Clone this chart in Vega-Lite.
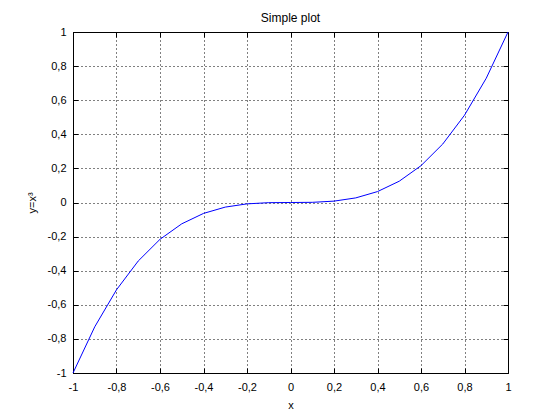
{
  "$schema": "https://vega.github.io/schema/vega-lite/v6.json",
  "width": 435,
  "height": 341,
  "autosize": {"type": "none"},
  "padding": {"left": 73, "top": 32, "right": 52, "bottom": 47},
  "background": "white",
  "title": {"text": "Simple plot", "font": "Liberation Sans", "fontSize": 12, "fontWeight": "normal", "color": "black", "offset": 1},
  "config": {
    "view": {"stroke": null},
    "axis": {"labelFont": "Liberation Sans", "labelFontSize": 11, "labelColor": "black", "labelFlush": false, "titleFont": "Liberation Sans", "titleFontSize": 11, "titleFontWeight": "normal", "titleColor": "black", "domainColor": "black", "tickColor": "black", "gridColor": "black", "gridDash": [1, 3], "gridOpacity": 1}
  },
  "data": {
    "values": [
      {"x": -1.0, "y": -1.0},
      {"x": -0.9, "y": -0.729},
      {"x": -0.8, "y": -0.512},
      {"x": -0.7, "y": -0.343},
      {"x": -0.6, "y": -0.216},
      {"x": -0.5, "y": -0.125},
      {"x": -0.4, "y": -0.064},
      {"x": -0.3, "y": -0.027},
      {"x": -0.2, "y": -0.008},
      {"x": -0.1, "y": -0.001},
      {"x": 0.0, "y": 0.0},
      {"x": 0.1, "y": 0.001},
      {"x": 0.2, "y": 0.008},
      {"x": 0.3, "y": 0.027},
      {"x": 0.4, "y": 0.064},
      {"x": 0.5, "y": 0.125},
      {"x": 0.6, "y": 0.216},
      {"x": 0.7, "y": 0.343},
      {"x": 0.8, "y": 0.512},
      {"x": 0.9, "y": 0.729},
      {"x": 1.0, "y": 1.0}
    ]
  },
  "layer": [
    {
      "mark": {"type": "line", "color": "#0000ff", "strokeWidth": 1},
      "encoding": {
        "x": {
          "field": "x", "type": "quantitative",
          "scale": {"domain": [-1, 1], "nice": false, "zero": false},
          "axis": {"orient": "bottom", "title": "x", "values": [-1, -0.8, -0.6, -0.4, -0.2, 0, 0.2, 0.4, 0.6, 0.8, 1], "grid": true, "tickSize": -5, "labelPadding": 13, "titlePadding": 7, "labelExpr": "(datum.value < 0 ? '-' : '') + replace(format(abs(datum.value), '.1~f'), '.', ',')"}
        },
        "y": {
          "field": "y", "type": "quantitative",
          "scale": {"domain": [-1, 1], "nice": false, "zero": false},
          "axis": {"orient": "left", "title": "y=x³", "values": [-1, -0.8, -0.6, -0.4, -0.2, 0, 0.2, 0.4, 0.6, 0.8, 1], "grid": true, "tickSize": -5, "labelPadding": 12, "titlePadding": 10, "labelExpr": "(datum.value < 0 ? '-' : '') + replace(format(abs(datum.value), '.1~f'), '.', ',')"}
        }
      }
    },
    {
      "mark": {"type": "line", "opacity": 0},
      "encoding": {
        "x": {
          "field": "x", "type": "quantitative",
          "axis": {"orient": "top", "title": null, "labels": false, "values": [-1, -0.8, -0.6, -0.4, -0.2, 0, 0.2, 0.4, 0.6, 0.8, 1], "grid": false, "tickSize": -5}
        },
        "y": {
          "field": "y", "type": "quantitative",
          "axis": {"orient": "right", "title": null, "labels": false, "values": [-1, -0.8, -0.6, -0.4, -0.2, 0, 0.2, 0.4, 0.6, 0.8, 1], "grid": false, "tickSize": -5}
        }
      }
    }
  ],
  "resolve": {"axis": {"x": "independent", "y": "independent"}}
}
